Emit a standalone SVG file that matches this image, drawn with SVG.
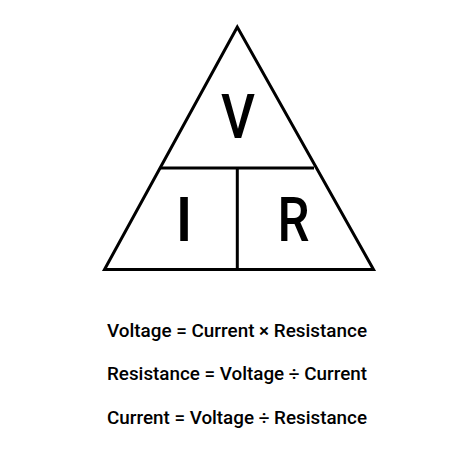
<svg xmlns="http://www.w3.org/2000/svg" width="474" height="474" viewBox="0 0 474 474">
  <style>
    .ln { fill: none; stroke: #000; stroke-width: 3; stroke-linejoin: miter; }
    .big { font-family: Roboto, "Liberation Sans", sans-serif; font-weight: 500; font-size: 62px; fill: #000; text-anchor: middle; }
    .eq { font-family: Roboto, "Liberation Sans", sans-serif; font-weight: 500; font-size: 18px; fill: #000; text-anchor: middle; }
  </style>
  <rect width="474" height="474" fill="#fff"/>
  <g id="connectors">
    <polygon class="ln" points="237.3,27 104.5,269.5 373.5,269.5"/>
    <line class="ln" x1="160" y1="168" x2="314" y2="168"/>
    <line class="ln" x1="237.3" y1="168" x2="237.3" y2="269.5"/>
  </g>
  <g id="node-V"><text class="big" x="238" y="138" textLength="34" lengthAdjust="spacingAndGlyphs">V</text></g>
  <g id="node-I"><text class="big" x="184" y="241">I</text></g>
  <g id="node-R"><text class="big" x="293.5" y="241" textLength="32" lengthAdjust="spacingAndGlyphs">R</text></g>
  <g id="equations">
    <text class="eq" x="237" y="336.5" textLength="260" lengthAdjust="spacingAndGlyphs">Voltage = Current × Resistance</text>
    <text class="eq" x="237" y="380" textLength="260" lengthAdjust="spacingAndGlyphs">Resistance = Voltage ÷ Current</text>
    <text class="eq" x="237" y="423.5" textLength="260" lengthAdjust="spacingAndGlyphs">Current = Voltage ÷ Resistance</text>
  </g>
</svg>
